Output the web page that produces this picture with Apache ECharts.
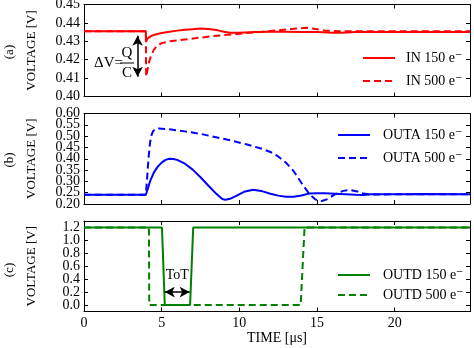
<!DOCTYPE html>
<html>
<head>
<meta charset="utf-8">
<script src="https://cdn.jsdelivr.net/npm/echarts@6/dist/echarts.min.js"></script>
<style>
  html, body { margin: 0; padding: 0; background: #fff; }
  #chart { width: 474px; height: 348px; }
</style>
</head>
<body>
<div id="chart"></div>
<script>
// Tick positions
const timeTicks = [0, 5, 10, 15, 20];
const inTicks = [0.40, 0.41, 0.42, 0.43, 0.44, 0.45];
const outaTicks = [0.20, 0.25, 0.30, 0.35, 0.40, 0.45, 0.50, 0.55, 0.60];
const outdTicks = [0.0, 0.2, 0.4, 0.6, 0.8, 1.0, 1.2];

// (a) input node voltage
const tIn150 = [0, 3.98, 4.0, 4.1, 4.3, 4.6, 5.0, 5.5, 6.0, 6.5, 7.0, 7.5, 8.0, 8.5, 9.0, 9.4, 10.0, 11.0, 12.0, 13.0, 14.0, 15.0, 16.0, 16.6, 17.5, 19.0, 21.0, 23.0, 24.85];
const vIn150 = [0.4355, 0.4355, 0.4300, 0.4315, 0.4328, 0.4337, 0.4345, 0.4352, 0.4358, 0.4363, 0.4366, 0.4369, 0.4367, 0.4362, 0.4352, 0.4346, 0.4346, 0.4350, 0.4352, 0.4352, 0.4351, 0.4350, 0.4346, 0.4347, 0.4351, 0.4350, 0.4351, 0.4350, 0.4351];
const tIn500 = [0, 3.98, 4.0, 4.1, 4.2, 4.3, 4.5, 4.7, 5.0, 5.5, 6.5, 7.5, 8.5, 9.5, 10.5, 11.5, 12.5, 13.5, 14.3, 14.9, 15.5, 16.5, 18.0, 20.0, 22.0, 24.85];
const vIn500 = [0.4355, 0.4355, 0.4108, 0.4150, 0.4190, 0.4218, 0.4255, 0.4275, 0.4290, 0.4300, 0.4310, 0.4320, 0.4330, 0.4337, 0.4345, 0.4352, 0.4360, 0.4368, 0.4374, 0.4367, 0.4358, 0.4355, 0.4355, 0.4355, 0.4354, 0.4355];

// (b) analog output
const tOuta150 = [0, 3.98, 4.1, 4.25, 4.5, 4.75, 5.0, 5.25, 5.5, 5.75, 6.0, 6.5, 7.0, 7.5, 8.0, 8.5, 8.9, 9.1, 9.4, 9.8, 10.3, 10.9, 11.5, 12.0, 12.5, 13.0, 13.5, 14.0, 14.5, 15.0, 15.5, 16.5, 17.5, 18.0, 18.5, 20.0, 22.0, 24.85];
const vOuta150 = [0.241, 0.241, 0.265, 0.300, 0.340, 0.365, 0.383, 0.395, 0.400, 0.399, 0.395, 0.378, 0.352, 0.318, 0.282, 0.246, 0.222, 0.219, 0.223, 0.236, 0.254, 0.263, 0.256, 0.245, 0.237, 0.232, 0.232, 0.238, 0.246, 0.248, 0.247, 0.244, 0.241, 0.240, 0.243, 0.243, 0.244, 0.243];
const tOuta500 = [0, 3.98, 4.05, 4.15, 4.25, 4.35, 4.45, 4.6, 4.8, 5.5, 6.5, 7.5, 8.5, 9.5, 10.5, 11.5, 12.0, 12.5, 13.0, 13.5, 14.0, 14.5, 14.9, 15.3, 15.7, 16.2, 16.7, 17.1, 17.6, 18.0, 18.5, 20.0, 24.85];
const vOuta500 = [0.241, 0.241, 0.300, 0.400, 0.470, 0.505, 0.522, 0.532, 0.534, 0.530, 0.521, 0.510, 0.495, 0.480, 0.463, 0.443, 0.430, 0.410, 0.383, 0.345, 0.293, 0.245, 0.220, 0.213, 0.222, 0.245, 0.258, 0.262, 0.255, 0.246, 0.242, 0.243, 0.243];

// (c) discriminator output
const tOutd150 = [0, 5.02, 5.2, 6.83, 7.03, 24.85];
const vOutd150 = [1.2, 1.2, 0.0, 0.0, 1.2, 1.2];
const tOutd500 = [0, 4.18, 4.2, 13.95, 14.2, 24.85];
const vOutd500 = [1.2, 1.2, 0.0, 0.0, 1.2, 1.2];

// Annotation values
const deltaV = { t: 3.45, top: 0.433, bottom: 0.4108 };
const tot = { start: 5.2, end: 6.8, level: 0.2 };

const FONT = '"Liberation Serif", "DejaVu Serif", serif';
const zip = (t, v) => t.map((x, i) => [x, v[i]]);

const grids = [
  { left: 84, top: 4.5, width: 386, height: 92 },
  { left: 84, top: 113.5, width: 386, height: 90.5 },
  { left: 84, top: 221, width: 386, height: 90.5 }
];

const xMax = 24.85;
const xAxes = [];
for (let g = 0; g < 3; g++) {
  xAxes.push({
    type: 'value', gridIndex: g, position: 'bottom', min: 0, max: xMax,
    axisLine: { show: true, onZero: false, lineStyle: { color: '#000', width: 1 } },
    axisTick: { show: true, inside: true, length: 4, customValues: timeTicks, lineStyle: { color: '#000' } },
    axisLabel: { show: g === 2, customValues: timeTicks, margin: 5, color: '#000', fontSize: 14, fontFamily: FONT,
      showMinLabel: true },
    splitLine: { show: false },
    name: g === 2 ? 'TIME [\u03bcs]' : '', nameLocation: 'middle', nameGap: 20,
    nameTextStyle: { color: '#000', fontSize: 14, fontFamily: FONT }
  });
}
for (let g = 0; g < 3; g++) {
  xAxes.push({
    type: 'value', gridIndex: g, position: 'top', min: 0, max: xMax,
    axisLine: { show: true, onZero: false, lineStyle: { color: '#000', width: 1 } },
    axisTick: { show: true, inside: true, length: 4, customValues: timeTicks, lineStyle: { color: '#000' } },
    axisLabel: { show: false },
    splitLine: { show: false }
  });
}

const yRanges = [
  { min: 0.40, max: 0.45, ticks: inTicks, dec: 2 },
  { min: 0.20, max: 0.60, ticks: outaTicks, dec: 2 },
  { min: -0.1, max: 1.3, ticks: outdTicks, dec: 1 }
];
const yAxes = [];
yRanges.forEach((r, g) => {
  yAxes.push({
    type: 'value', gridIndex: g, position: 'left', min: r.min, max: r.max,
    axisLine: { show: true, onZero: false, lineStyle: { color: '#000', width: 1 } },
    axisTick: { show: true, inside: true, length: 4, customValues: r.ticks, lineStyle: { color: '#000' } },
    // tightly packed tick labels are drawn below as text at the axis' own pixel positions
    axisLabel: { show: false },
    splitLine: { show: false },
    name: 'VOLTAGE [V]', nameLocation: 'middle', nameGap: 46, nameRotate: 90,
    nameTextStyle: { color: '#000', fontSize: 13, fontFamily: FONT }
  });
});
yRanges.forEach((r, g) => {
  yAxes.push({
    type: 'value', gridIndex: g, position: 'right', min: r.min, max: r.max,
    axisLine: { show: true, onZero: false, lineStyle: { color: '#000', width: 1 } },
    axisTick: { show: true, inside: true, length: 4, customValues: r.ticks, lineStyle: { color: '#000' } },
    axisLabel: { show: false },
    splitLine: { show: false }
  });
});

function lineSeries(name, t, v, g, color, dashed, extra) {
  return Object.assign({
    type: 'line', name: name, xAxisIndex: g, yAxisIndex: g,
    data: zip(t, v), symbol: 'none', showSymbol: false, animation: false,
    lineStyle: { color: color, width: 2, type: dashed ? [7, 4] : 'solid' },
    itemStyle: { color: color }, z: dashed ? 3 : 4
  }, extra || {});
}

const arrowLine = { color: '#000', width: 1.5, type: 'solid' };

const series = [
  lineSeries('IN 150 e\u207b', tIn150, vIn150, 0, '#ff0000', false, {
    markLine: {
      silent: true, symbol: ['arrow', 'arrow'], symbolSize: [8, 10], animation: false,
      lineStyle: arrowLine, label: { show: false },
      data: [[{ coord: [deltaV.t, deltaV.top] }, { coord: [deltaV.t, deltaV.bottom] }]]
    }
  }),
  lineSeries('IN 500 e\u207b', tIn500, vIn500, 0, '#ff0000', true),
  lineSeries('OUTA 150 e\u207b', tOuta150, vOuta150, 1, '#0000ff', false),
  lineSeries('OUTA 500 e\u207b', tOuta500, vOuta500, 1, '#0000ff', true),
  lineSeries('OUTD 150 e\u207b', tOutd150, vOutd150, 2, '#008000', false, {
    markLine: {
      silent: true, symbol: ['arrow', 'arrow'], symbolSize: [8, 10], animation: false,
      lineStyle: arrowLine,
      label: { show: true, position: 'middle', formatter: 'ToT', distance: 10,
        color: '#000', fontSize: 14, fontFamily: FONT },
      data: [[{ coord: [tot.start, tot.level] }, { coord: [tot.end, tot.level] }]]
    }
  }),
  lineSeries('OUTD 500 e\u207b', tOutd500, vOutd500, 2, '#008000', true)
];

function legendAt(names, left, top, gap, textPad) {
  return {
    data: names, orient: 'vertical', left: left, top: top,
    itemWidth: 32, itemHeight: 14, itemGap: gap, selectedMode: false,
    itemStyle: { opacity: 0, borderWidth: 0 },
    textStyle: { color: '#000', fontSize: 14, fontFamily: FONT, padding: [0, 0, 0, textPad] }
  };
}

const labelText = (txt, x, y) => ({
  type: 'text', x: x, y: y, rotation: Math.PI / 2,
  style: { text: txt, fill: '#000', font: '13px ' + FONT, textAlign: 'center', textVerticalAlign: 'middle' }
});

const chart = echarts.init(document.getElementById('chart'), null, { renderer: 'canvas' });
chart.setOption({
  backgroundColor: '#fff',
  animation: false,
  grid: grids,
  xAxis: xAxes,
  yAxis: yAxes,
  legend: [
    legendAt(['IN 150 e\u207b', 'IN 500 e\u207b'], 357, 46, 9, 6),
    legendAt(['OUTA 150 e\u207b', 'OUTA 500 e\u207b'], 332, 123, 9, 8),
    legendAt(['OUTD 150 e\u207b', 'OUTD 500 e\u207b'], 332, 263, 6, 8)
  ],
  series: series
});

// Y tick labels, placed through each axis' scale
const tickLabels = [];
yRanges.forEach((r, g) => {
  r.ticks.forEach(v => {
    const y = chart.convertToPixel({ yAxisIndex: g }, v);
    tickLabels.push({
      type: 'text', x: grids[g].left - 4, y: y,
      style: { text: v.toFixed(r.dec), fill: '#000', font: '14px ' + FONT, textAlign: 'right', textVerticalAlign: 'middle' }
    });
  });
});

chart.setOption({
  graphic: tickLabels.concat([
    labelText('(a)', 10, 52),
    labelText('(b)', 10, 160),
    labelText('(c)', 10, 270),
    { type: 'text', x: 123, y: 63, style: { text: '\u0394V=', fill: '#000', font: '15px ' + FONT, textAlign: 'right', textVerticalAlign: 'middle' } },
    { type: 'text', x: 127, y: 53, style: { text: 'Q', fill: '#000', font: '15px ' + FONT, textAlign: 'center', textVerticalAlign: 'middle' } },
    { type: 'line', shape: { x1: 120, y1: 63, x2: 134, y2: 63 }, style: { stroke: '#000', lineWidth: 1 } },
    { type: 'text', x: 127, y: 73, style: { text: 'C', fill: '#000', font: '15px ' + FONT, textAlign: 'center', textVerticalAlign: 'middle' } }
  ])
});
</script>
</body>
</html>
